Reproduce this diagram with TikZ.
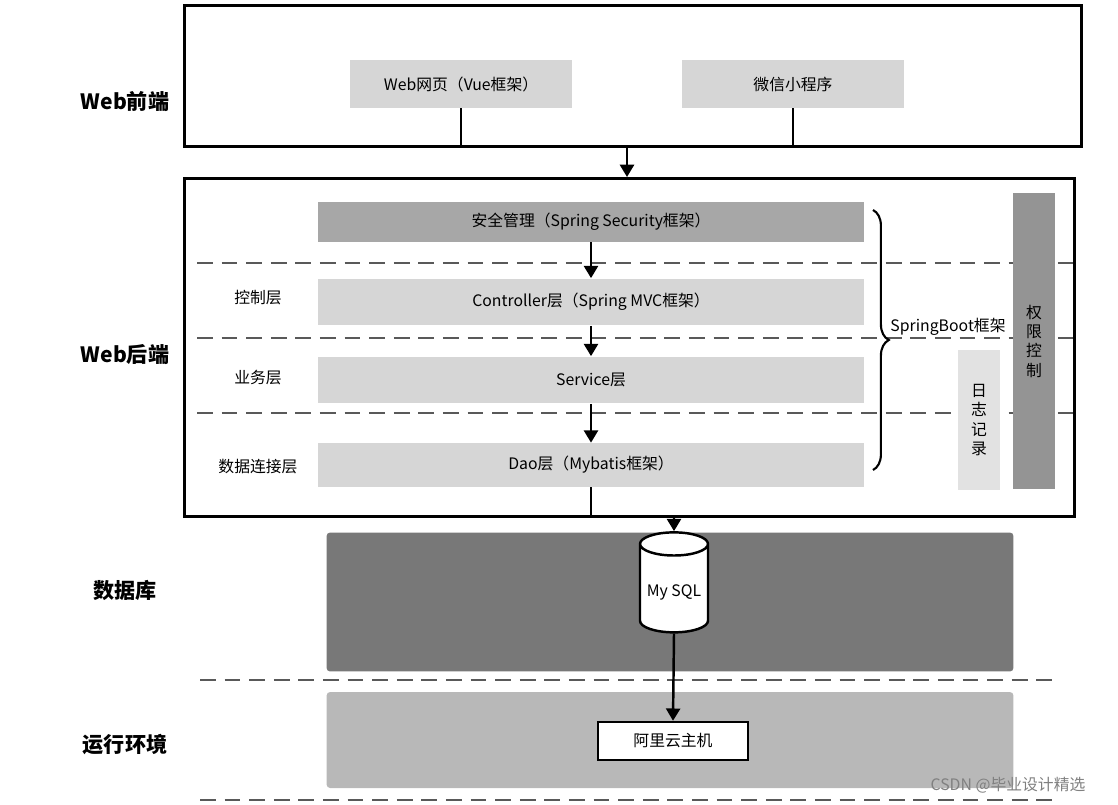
\documentclass[tikz,border=0pt]{standalone}
\usepackage{fontspec}
\setmainfont{Noto Sans CJK SC}
\usetikzlibrary{arrows.meta,positioning,shapes.geometric,decorations.pathreplacing}
\definecolor{barfill}{gray}{0.84}
\definecolor{dbfill}{gray}{0.47}
\definecolor{envfill}{gray}{0.72}
\definecolor{authfill}{gray}{0.58}
\begin{document}
\begin{tikzpicture}[x=0.02cm,y=-0.02cm,
  frame/.style={draw,line width=1.6pt},
  bar/.style={fill=barfill,draw=none,font=\small,inner sep=0pt},
  tag/.style={font=\small},
  side/.style={font=\bfseries\large},
  split/.style={dashed,gray!70!black,dash pattern=on 9pt off 5pt,line width=0.6pt},
  flow/.style={-{Triangle[length=7pt,width=8pt]},line width=1.4pt}]
\useasboundingbox (0,0) rectangle (1118,804);
% front end
\node[frame,minimum width=17.94cm,minimum height=2.82cm,anchor=north west] (front) at (183,4) {};
\node[bar,minimum width=4.44cm,minimum height=0.96cm] (web) at (461,84) {Web网页（Vue框架）};
\node[bar,minimum width=4.44cm,minimum height=0.96cm] (wx) at (793,84) {微信小程序};
\draw[line width=1.4pt] (web.south) -- (web.south |- front.south);
\draw[line width=1.4pt] (wx.south) -- (wx.south |- front.south);
% back end
\node[frame,minimum width=17.8cm,minimum height=6.76cm,anchor=north west] (back) at (183,177) {};
\draw[flow] (front.south -| 627,0) -- (back.north -| 627,0);
\foreach \y in {263,338,413} \draw[split] (197,\y) -- (1073,\y);
\node[bar,fill=gray!55!barfill,minimum width=10.94cm,minimum height=0.8cm] (sec) at (591,222) {安全管理（Spring Security框架）};
\node[bar,minimum width=10.94cm,minimum height=0.94cm] (ctrl) at (591,302) {Controller层（Spring MVC框架）};
\node[bar,minimum width=10.94cm,minimum height=0.94cm] (svc) at (591,380) {Service层};
\node[bar,minimum width=10.94cm,minimum height=0.88cm] (dao) at (591,465) {Dao层（Mybatis框架）};
\draw[flow] (sec.south) -- (ctrl.north);
\draw[flow] (ctrl.south) -- (svc.north);
\draw[flow] (svc.south) -- (dao.north);
\draw[line width=1.4pt] (dao.south) -- (dao.south |- back.south);
\node[tag] (l1) at (258,298) {控制层};
\node[tag] (l2) at (258,378) {业务层};
\node[tag] (l3) at (258,467) {数据连接层};
\draw[decorate,decoration={brace,amplitude=9pt},line width=1.2pt] (873,210) -- (873,470);
\node[tag] (boot) at (948,327) {SpringBoot框架};
\node[bar,fill=barfill!70!white,minimum width=0.84cm,minimum height=2.8cm,align=center] (log) at (979,420) {日\\志\\记\\录};
\node[bar,fill=authfill,minimum width=0.84cm,minimum height=5.94cm,align=center] (auth) at (1034,341) {权\\限\\控\\制};
% database
\node[fill=dbfill,rounded corners=2pt,minimum width=13.74cm,minimum height=2.78cm] (db) at (670,602) {};
\draw[split] (200,680) -- (1060,680);
\node[fill=envfill,rounded corners=2pt,minimum width=13.74cm,minimum height=1.92cm] (env) at (670,740) {};
\draw[split] (200,800) -- (1060,800);
\node[cylinder,shape border rotate=90,draw,line width=1.4pt,fill=white,aspect=0.35,
  minimum width=1.36cm,minimum height=2cm,font=\small] (sql) at (674,592) {My SQL};
\draw[flow] (back.south -| sql.north) -- (sql.top);
\node[draw,line width=1.4pt,fill=white,minimum width=3cm,minimum height=0.76cm,font=\small] (host) at (673,741) {阿里云主机};
\draw[flow] (sql.bottom) -- (host.north);
% side labels
\node[side] (s1) at (125,102) {Web前端};
\node[side] (s2) at (125,355) {Web后端};
\node[side] (s3) at (125,590) {数据库};
\node[side] (s4) at (125,745) {运行环境};
\node[gray,font=\small] (mark) at (1008,785) {CSDN @毕业设计精选};
\end{tikzpicture}
\end{document}
